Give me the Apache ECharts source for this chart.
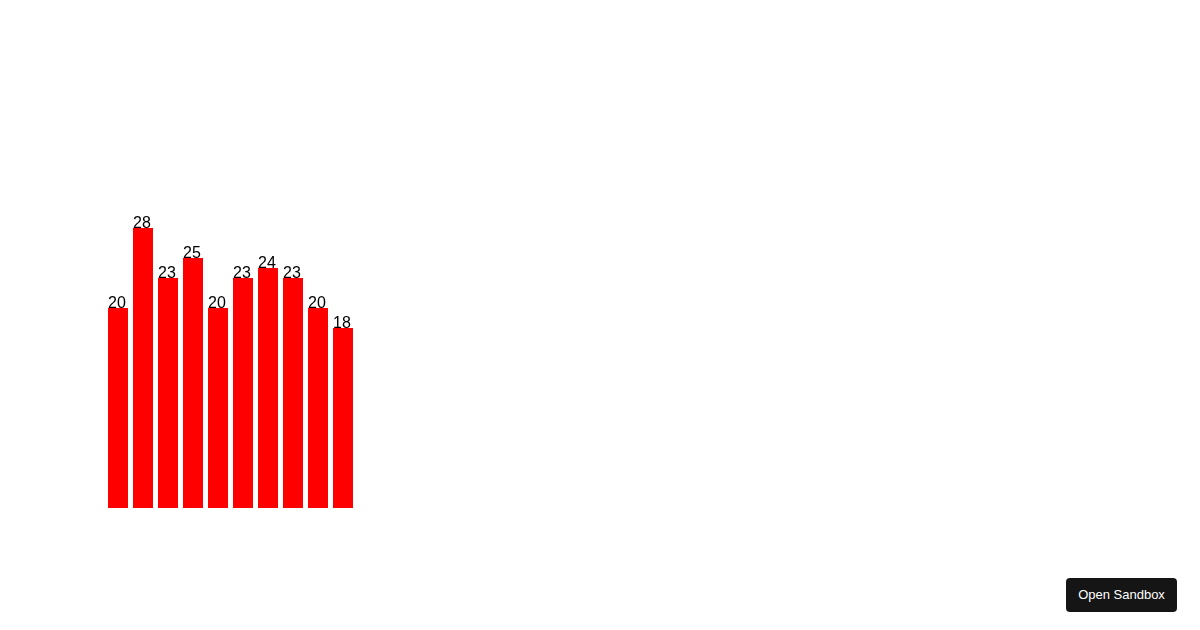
<!DOCTYPE html>
<html>
<head>
<meta charset="utf-8">
<title>Bar chart</title>
<script src="https://cdn.jsdelivr.net/npm/echarts@6/dist/echarts.min.js"></script>
<style>
    html, body { margin: 0; padding: 0; background: #fff; }
    #chart { position: absolute; left: 0; top: 0; width: 1200px; height: 630px; }
    .sandbox-btn {
        position: absolute; left: 1066px; top: 578px; width: 111px; height: 34px;
        background: #151515; color: #fff; border-radius: 4px;
        font: 13px "Liberation Sans", Arial, sans-serif;
        line-height: 34px; text-align: center;
    }
</style>
</head>
<body>
<div id="chart"></div>
<div class="sandbox-btn">Open Sandbox</div>
<script>
//数据
const categories = ['A', 'B', 'C', 'D', 'E', 'F', 'G', 'H', 'I', 'J'];
const values = [20, 28, 23, 25, 20, 23, 24, 23, 20, 18];

let chart = echarts.init(document.getElementById('chart'));

let option = {
    animation: false,
    grid: {
        left: 105.5,
        top: 208,
        width: 250,
        height: 300
    },
    xAxis: {
        type: 'category',
        data: categories,
        show: false
    },
    yAxis: {
        type: 'value',
        min: 0,
        max: 30,
        show: false
    },
    series: [{
        type: 'bar',
        data: values,
        barWidth: 20,
        itemStyle: { color: '#ff0000' },
        label: {
            show: true,
            position: [0, -4],
            align: 'left',
            verticalAlign: 'middle',
            color: '#000',
            fontSize: 16,
            fontFamily: 'Liberation Sans, Arial, sans-serif'
        }
    }]
};
chart.setOption(option);
</script>
</body>
</html>
